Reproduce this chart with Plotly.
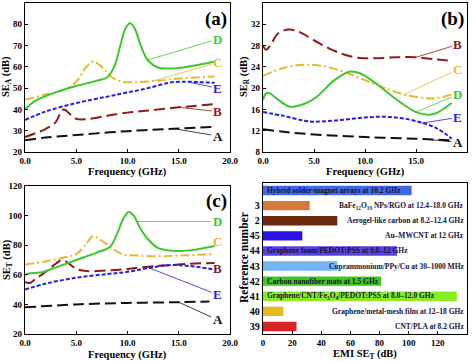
import plotly.graph_objects as go

# ---------------- data ----------------
# Panel (a) SE_A
a_A_x = [0, 2, 5, 10, 15, 18.5]
a_A_y = [25.5, 26.8, 28.0, 29.8, 31.0, 31.8]
a_B_x = [0, 1, 2, 3, 3.5, 3.8, 4.3, 5, 6, 8, 10, 12, 15, 18.5]
a_B_y = [27, 28.8, 30.8, 34, 38.8, 40, 38.2, 35.6, 35.4, 37, 38.5, 39.5, 41, 42.5]
a_C_x = [0, 2, 4, 5, 6, 6.7, 7.5, 8.5, 9.5, 11, 13, 15, 18.5]
a_C_y = [44.5, 47, 49.5, 53, 60, 62.5, 60, 55, 53, 52.8, 53.5, 54.5, 55.5]
a_D_x = [0, 1, 3, 5, 7, 8, 8.7, 9.3, 9.8, 10.25, 10.7, 11.3, 12, 13, 14, 15, 17, 18.5]
a_D_y = [40, 44, 48, 51, 53.5, 55, 60, 70, 78, 80.5, 78, 70, 63, 59.6, 59.2, 59.5, 61, 62.5]
a_E_x = [0, 2, 5, 8, 10, 12, 14, 15, 16, 18.5]
a_E_y = [35, 39, 43, 46, 48, 50, 52.5, 53, 53, 52.5]

# Panel (b) SE_R
b_A_x = [0, 2, 5, 10, 15, 18.5]
b_A_y = [12.3, 11.8, 11.3, 10.8, 10.5, 10.2]
b_B_x = [0, 0.3, 0.7, 1.5, 2.5, 3.5, 5, 7, 9, 11, 13, 15, 17, 18.5]
b_B_y = [28, 27.2, 28, 30.3, 31, 30.6, 29, 27, 25.8, 25.6, 25.8, 25.8, 25.4, 25.1]
b_C_x = [0, 2, 4, 6, 8, 10, 12, 14, 16, 17, 18.5]
b_C_y = [22.3, 23.8, 24.4, 24.1, 23, 21.5, 20, 18.7, 18.1, 18.1, 18.8]
b_D_x = [0, 0.3, 0.6, 1.5, 2.5, 3, 5, 7, 8.5, 9.5, 11, 13, 15, 16.3, 17, 18.5]
b_D_y = [17.8, 19, 19.1, 17.8, 16.6, 16.5, 18, 21.5, 23.1, 22.8, 21, 18, 15.5, 15, 15.3, 17.2]
b_E_x = [0, 2, 4, 5, 7, 9, 11, 13, 15, 17, 18.5]
b_E_y = [15.5, 14.8, 13.9, 13.7, 13.9, 14.3, 14.6, 14.5, 13.8, 12.5, 10.5]

# Panel (c) SE_T
c_A_x = [0, 5, 10, 15, 18]
c_A_y = [38, 40, 41, 41.5, 42]
c_B_x = [0, 0.5, 1, 2, 3, 3.6, 4.2, 5, 6, 8, 10, 12, 14, 16, 18.5]
c_B_y = [55, 54.5, 57, 62, 67.5, 70, 68, 64, 62.5, 63, 64, 65.5, 66.5, 67.5, 68]
c_C_x = [0, 2, 4, 5, 6, 6.6, 7.5, 8.5, 9.5, 11, 13, 15, 18.5]
c_C_y = [67, 69, 72, 74, 81, 86, 83, 78, 74, 73, 72.5, 73, 74]
c_D_x = [0, 0.5, 1.5, 3, 5, 7, 8.3, 9, 9.6, 10.1, 10.6, 11.2, 12, 13, 14, 15, 16, 17, 18.5]
c_D_y = [60, 61, 61.5, 65, 70, 75, 79, 88, 98, 102.5, 100, 92, 84, 78, 76.5, 76, 76.5, 77.5, 79.5]
c_E_x = [0, 2, 5, 8, 10, 12, 14, 16, 18.5]
c_E_y = [50, 54, 58, 60.5, 62, 64.5, 66.5, 66, 63.5]

# Labels: (label x, label y, leader x, leader y)  None = no leader
a_labels = {"D": (18.8, 73, 11.8, 63), "C": (18.8, 62, 12.6, 53.5), "E": (18.8, 50, 16.0, 52.8),
            "B": (18.8, 39, 15.0, 41.0), "A": (18.8, 27.5, 14.5, 31.0)}
b_labels = {"B": (19.1, 28.2, 15.0, 25.8), "C": (19.1, 23.5, 13.8, 18.8), "D": (19.1, 18.8, 15.0, 15.5),
            "E": (19.1, 14.5, 15.5, 13.4), "A": (19.1, 9.8, 16.0, 10.4)}
c_labels = {"D": (18.8, 96, 11.0, 96.0), "C": (18.8, 82.5, None, None), "B": (18.8, 64.5, None, None),
            "E": (18.8, 46.5, 12.0, 65.0), "A": (18.8, 29.5, 15.0, 41.5)}

# Panel (d) bars (bottom to top)
d_refs = ["39", "40", "41", "42", "43", "44", "45", "2", "3", ""]
d_values = [23, 14, 133, 81, 51, 92, 27, 51, 32, 102]
d_colors = ["#d8232a", "#e8b820", "#86ee22", "#3ec81c", "#74b4f2", "#5a40e0", "#2a12e6",
            "#6a2a0e", "#d47a3a", "#4068e4"]
d_texts = ["CNT/PLA at 8.2 GHz",
           "Graphene/metal-mesh film at 12–18 GHz",
           "Graphene/CNT/Fe<sub>3</sub>O<sub>4</sub>/PEDOT:PSS at 8.0–12.0 GHz",
           "Carbon nanofiber mats at 1.5 GHz",
           "Cuprammonium/PPy/Cu at 30–1000 MHz",
           "Graphene foam/PEDOT:PSS at 9.8–12 GHz",
           "Au–MWCNT at 12 GHz",
           "Aerogel-like carbon at 8.2–12.4 GHz",
           "BaFe<sub>12</sub>O<sub>19</sub> NPs/RGO at 12.4–18.0 GHz",
           "Hybrid solder-magnet arrays at 10.2 GHz"]
d_inside = [False, False, True, True, False, True, False, False, False, True]

# ---------------- style ----------------
FONT = "Liberation Serif"
styles = {
    "A": dict(color="#111111", dash="11px,5px"),
    "B": dict(color="#8e1a1a", dash="11px,5px"),
    "C": dict(color="#e6b830", dash="9px,3px,2px,3px"),
    "D": dict(color="#3ec82e", dash="solid"),
    "E": dict(color="#2222e0", dash="4px,2px"),
}

fig = go.Figure()

def add_panel(series, xa, ya, labels):
    for name, (xs, ys) in series.items():
        st = styles[name]
        fig.add_trace(go.Scatter(x=xs, y=ys, mode="lines", xaxis=xa, yaxis=ya,
                                 line=dict(color=st["color"], dash=st["dash"], width=2, shape="spline",
                                           smoothing=1.0),
                                 showlegend=False, hoverinfo="skip"))
    for name, (lx, ly, px, py) in labels.items():
        st = styles[name]
        if px is not None:
            fig.add_annotation(x=px, y=py, ax=lx, ay=ly, xref=xa, yref=ya, axref=xa, ayref=ya,
                               text="<b>%s</b>" % name, showarrow=True, arrowhead=0,
                               arrowwidth=0.8, arrowcolor=st["color"], standoff=0,
                               font=dict(family=FONT, size=13, color=st["color"]))
        else:
            fig.add_annotation(x=lx, y=ly, xref=xa, yref=ya, text="<b>%s</b>" % name,
                               showarrow=False, font=dict(family=FONT, size=13, color=st["color"]))

add_panel({"A": (a_A_x, a_A_y), "B": (a_B_x, a_B_y), "C": (a_C_x, a_C_y),
           "E": (a_E_x, a_E_y), "D": (a_D_x, a_D_y)}, "x", "y", a_labels)
add_panel({"A": (b_A_x, b_A_y), "B": (b_B_x, b_B_y), "C": (b_C_x, b_C_y),
           "E": (b_E_x, b_E_y), "D": (b_D_x, b_D_y)}, "x2", "y2", b_labels)
add_panel({"A": (c_A_x, c_A_y), "B": (c_B_x, c_B_y), "C": (c_C_x, c_C_y),
           "E": (c_E_x, c_E_y), "D": (c_D_x, c_D_y)}, "x3", "y3", c_labels)

ypos = list(range(len(d_refs)))
fig.add_trace(go.Bar(x=d_values, y=ypos, orientation="h", xaxis="x4", yaxis="y4",
                     marker=dict(color=d_colors, line=dict(width=0)), width=0.62,
                     showlegend=False, hoverinfo="skip"))
for yv, txt, ins in zip(ypos, d_texts, d_inside):
    if ins:
        fig.add_annotation(x=1.5, y=yv, xref="x4", yref="y4", text="<b>%s</b>" % txt,
                           xanchor="left", showarrow=False,
                           font=dict(family=FONT, size=7.5, color="#14143c"))
    else:
        fig.add_annotation(x=139.5, y=yv, xref="x4", yref="y4", text="<b>%s</b>" % txt,
                           xanchor="right", showarrow=False,
                           font=dict(family=FONT, size=7.5, color="#14143c"))

# panel letters
for lab, xr, yr, xv, yv in [("(a)", "x", "y", 19.9, 88.8), ("(b)", "x2", "y2", 19.9, 35.5),
                             ("(c)", "x3", "y3", 19.9, 118.5), ("(d)", "x4", "y4", 139.5, 9.6)]:
    fig.add_annotation(x=xv, y=yv, xref=xr, yref=yr, text="<b>%s</b>" % lab, xanchor="right",
                       yanchor="top", showarrow=False, font=dict(family=FONT, size=19, color="#000"))

tickfont = dict(family=FONT, size=9, color="#000", weight="bold")

def xax(domain, rng, dtick, fmt, anchor):
    return dict(domain=domain, range=rng, dtick=dtick, tick0=0, tickformat=fmt, anchor=anchor,
                showline=True, mirror=True, linecolor="#000", linewidth=1.3, ticks="inside",
                ticklen=3, tickcolor="#000", showgrid=False, zeroline=False, tickfont=tickfont,
                automargin=False)

def yax(domain, rng, dtick, anchor):
    return dict(domain=domain, range=rng, dtick=dtick, tick0=0, anchor=anchor,
                showline=True, mirror=True, linecolor="#000", linewidth=1.3, ticks="inside",
                ticklen=3, tickcolor="#000", showgrid=False, zeroline=False, tickfont=tickfont,
                automargin=False)

top = [1 - 152 / 361, 1 - 3 / 361]
bot = [1 - 334 / 361, 1 - 186 / 361]
botd = [1 - 334 / 361, 1 - 183 / 361]
left = [25 / 474, 230 / 474]
right = [263 / 474, 467 / 474]

# axis titles as paper annotations
titles = [
    ("Frequency (GHz)", 127.5, 172, 0), ("Frequency (GHz)", 365, 172, 0),
    ("Frequency (GHz)", 127.5, 354.5, 0), ("EMI SE<sub>T</sub> (dB)", 365, 354, 0),
    ("SE<sub>A</sub> (dB)", 7, 77, -90), ("SE<sub>R</sub> (dB)", 245, 77, -90),
    ("SE<sub>T</sub> (dB)", 7, 260, -90), ("Reference number", 244, 258, -90),
]
for txt, px, py, ang in titles:
    fig.add_annotation(x=px / 474, y=1 - py / 361, xref="paper", yref="paper", text="<b>%s</b>" % txt,
                       showarrow=False, textangle=ang, xanchor="center", yanchor="middle",
                       font=dict(family=FONT, size=11.5 if txt.startswith("Ref") else 10.5, color="#000"))

fig.update_layout(
    width=474, height=361, margin=dict(l=0, r=0, t=0, b=0),
    paper_bgcolor="white", plot_bgcolor="white", showlegend=False,
    font=dict(family=FONT, color="#000"),
    xaxis=xax(left, [0, 20], 5, ".1f", "y"),
    yaxis=yax(top, [20, 90], 10, "x"),
    xaxis2=xax(right, [0, 20], 5, ".1f", "y2"),
    yaxis2=yax(top, [8, 36], 4, "x2"),
    xaxis3=xax(left, [0, 20], 5, ".1f", "y3"),
    yaxis3=yax(bot, [20, 120], 20, "x3"),
    xaxis4=xax(right, [0, 140], 20, "d", "y4"),
    yaxis4=dict(domain=botd, range=[-0.5, 9.5], anchor="x4", tickmode="array", tickvals=ypos,
                ticktext=d_refs, showline=True, mirror=True, linecolor="#000", linewidth=1.3,
                ticks="", showgrid=False, zeroline=False, automargin=False,
                tickfont=dict(family=FONT, size=10, color="#000", weight="bold")),
)

fig.write_html("out.html", config={"displayModeBar": False},
               post_script="document.body.style.margin='0';document.body.style.overflow='hidden';")
